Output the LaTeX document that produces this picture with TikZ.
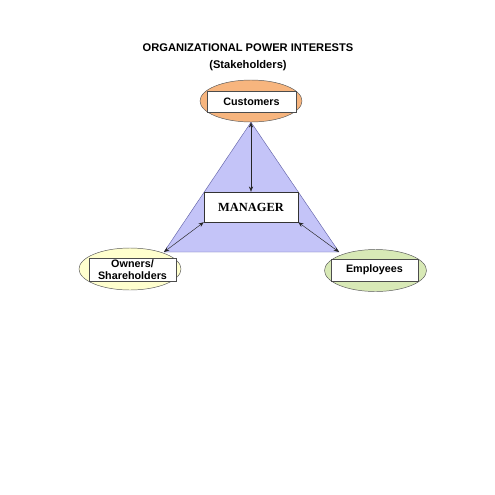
\documentclass[tikz,border=0pt]{standalone}
\usepackage{fontspec}
\setmainfont{Liberation Serif}
\setsansfont{Liberation Sans}
\usetikzlibrary{shapes.geometric, arrows.meta, positioning, backgrounds}
\definecolor{custfill}{RGB}{247,181,126}
\definecolor{ownfill}{RGB}{255,255,206}
\definecolor{empfill}{RGB}{216,233,182}
\definecolor{trifill}{RGB}{196,196,248}
\tikzstyle{oval} = [ellipse, draw=black!65, minimum width=3.06cm, minimum height=1.26cm]
\tikzstyle{tagbox} = [rectangle, draw=black!70, fill=white, inner sep=1pt,
    font=\sffamily\bfseries\fontsize{9.2}{10.2}\selectfont, align=center]
\tikzstyle{headline} = [font=\sffamily\bfseries\fontsize{9.5}{11}\selectfont]
\tikzstyle{arrow} = [thin, black!85, {Stealth[length=4.5pt,width=3.5pt]}-{Stealth[length=4.5pt,width=3.5pt]}]

\begin{document}
\begin{tikzpicture}[x=0.03cm, y=-0.03cm]
  \useasboundingbox (0,0) rectangle (495,495);
  \node (title)    [headline] at (248,48) {ORGANIZATIONAL POWER INTERESTS};
  \node (subtitle) [headline, below=0pt of title] {(Stakeholders)};

  % stakeholders
  \node (custoval) [oval, fill=custfill] at (251,101) {};
  \node (cust)     [tagbox, minimum width=2.67cm, minimum height=0.63cm] at (251.5,101.5) {Customers};
  \node (ownoval)  [oval, fill=ownfill] at (130,269) {};
  \node (owners)   [tagbox, minimum width=2.61cm, minimum height=0.69cm] at (132.5,269.5) {Owners/\\Shareholders};
  \node (empoval)  [oval, fill=empfill] at (375.5,270.5) {};
  \node (empl)     [tagbox, minimum width=2.61cm, minimum height=0.66cm] at (374.5,270) {Employees};

  \coordinate (ownc) at (164,252);
  \coordinate (empc) at (339,252);

  \begin{scope}[on background layer]
    \draw[fill=trifill, draw=black!55!blue!60] (custoval.south) -- (ownc) -- (empc) -- cycle;
  \end{scope}

  \node (mgr) [rectangle, draw=black!80, fill=white, minimum width=2.82cm, minimum height=0.9cm,
      font=\bfseries\fontsize{10.6}{12}\selectfont] at (251,207) {MANAGER};

  \draw[arrow] (custoval.south) -- (mgr.north);
  \draw[arrow] (mgr.south west) -- (ownc);
  \draw[arrow] (mgr.south east) -- (empc);
\end{tikzpicture}
\end{document}
